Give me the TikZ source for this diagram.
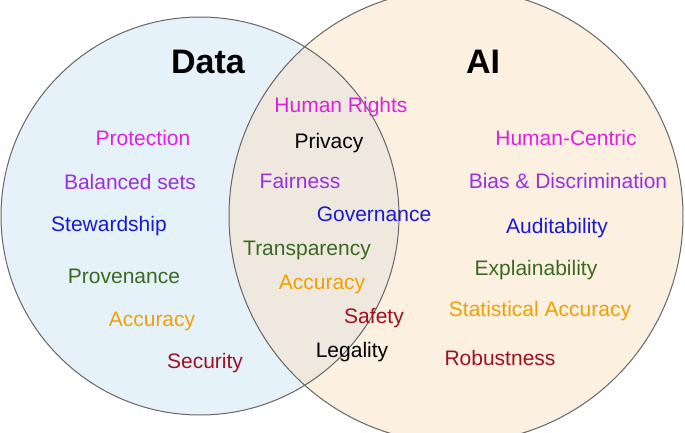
\documentclass[tikz,border=0pt]{standalone}
\usepackage{fontspec}
\setmainfont{Liberation Sans}
\definecolor{lb}{HTML}{E6F2FA}
\definecolor{pe}{HTML}{FCF0E0}
\definecolor{ov}{HTML}{EFE8DE}
\definecolor{xmag}{HTML}{E020E0}
\definecolor{xpur}{HTML}{9A30E0}
\definecolor{xblu}{HTML}{1A1AD0}
\definecolor{xgrn}{HTML}{3A6A20}
\definecolor{xora}{HTML}{F0A000}
\definecolor{xred}{HTML}{A01020}
\begin{document}
\begin{tikzpicture}[x=1pt,y=-1pt,
  t/.style={font=\fontsize{21}{24}\selectfont},
  h/.style={font=\fontsize{34}{38}\selectfont\bfseries}]
\useasboundingbox (0,0) rectangle (685,433);
\fill[pe] (456,216) circle (227);
\fill[lb] (200,216) circle (199);
\begin{scope}
\clip (200,216) circle (199);
\fill[ov] (456,216) circle (227);
\end{scope}
\draw[gray!80!black,line width=1pt] (200,216) circle (199);
\draw[gray!80!black,line width=1pt] (456,216) circle (227);
\node[h] (d) at (208,62) {Data};
\node[h] (a) at (483,62) {AI};
\node[t,text=xmag] (l1) at (143,138) {Protection};
\node[t,text=xpur] (l2) at (130,182) {Balanced sets};
\node[t,text=xblu] (l3) at (109,226) {Stewardship};
\node[t,text=xgrn] (l4) at (124,276) {Provenance};
\node[t,text=xora] (l5) at (152,321) {Accuracy};
\node[t,text=xred] (l6) at (205,363) {Security};
\node[t,text=xmag] (m1) at (341,107) {Human Rights};
\node[t] (m2) at (329,143) {Privacy};
\node[t,text=xpur] (m3) at (300,181) {Fairness};
\node[t,text=xblu] (m4) at (374,214) {Governance};
\node[t,text=xgrn] (m5) at (307,250) {Transparency};
\node[t,text=xora] (m6) at (322,284) {Accuracy};
\node[t,text=xred] (m7) at (374,318) {Safety};
\node[t] (m8) at (352,352) {Legality};
\node[t,text=xmag] (r1) at (566,138) {Human-Centric};
\node[t,text=xpur] (r2) at (568,181) {Bias \& Discrimination};
\node[t,text=xblu] (r3) at (557,228) {Auditability};
\node[t,text=xgrn] (r4) at (536,270) {Explainability};
\node[t,text=xora] (r5) at (540,311) {Statistical Accuracy};
\node[t,text=xred] (r6) at (500,358) {Robustness};
\end{tikzpicture}
\end{document}
